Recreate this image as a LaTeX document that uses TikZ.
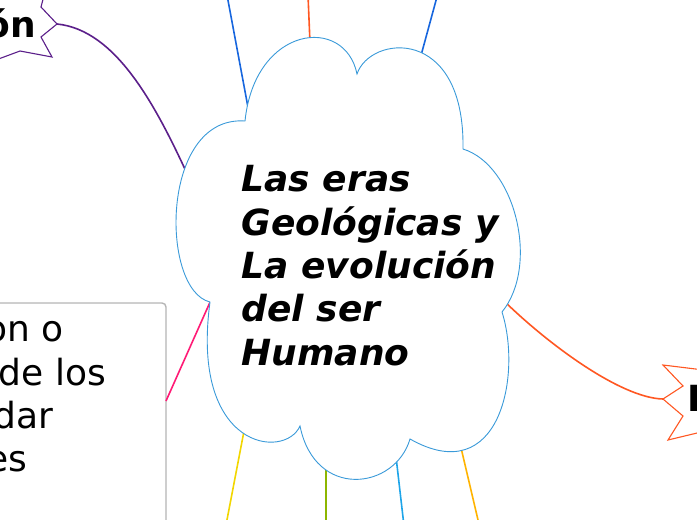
\documentclass[tikz,border=0pt]{standalone}
\usepackage{fontspec}
\setmainfont{DejaVu Sans}
\usepackage{xcolor}
\usetikzlibrary{positioning}

\definecolor{cloudblue}{HTML}{3A9AD9}
\definecolor{branchblue}{HTML}{1766DE}
\definecolor{branchred}{HTML}{FF5722}
\definecolor{branchpurple}{HTML}{5B1F8A}
\definecolor{branchpink}{HTML}{FF1A75}
\definecolor{branchyellow}{HTML}{F2D600}
\definecolor{branchgreen}{HTML}{8DB600}
\definecolor{branchcyan}{HTML}{1EA5E9}
\definecolor{branchorange}{HTML}{FFB300}
\definecolor{boxgrey}{HTML}{B5B5B5}

\begin{document}
\begin{tikzpicture}
      [x=1pt, y=-1pt,
      cloud style/.style={draw=cloudblue, line width=0.9pt, fill=white},
      branch style/.style={line width=1.6pt},
      star style/.style={line width=1.1pt, fill=white, line join=miter},
      box style/.style={draw=boxgrey, line width=1.4pt, rounded corners=4pt, fill=white},
      title style/.style={anchor=north west, align=left, inner sep=0pt, font=\fontsize{36}{43.3}\selectfont\bfseries\itshape},
      box text/.style={anchor=north west, align=left, inner sep=0pt, font=\fontsize{36}{43.3}\selectfont},
      star text/.style={inner sep=0pt, font=\fontsize{36}{43.3}\selectfont\bfseries},
      ]
  \useasboundingbox (0,0) rectangle (697,520);
  \clip (0,0) rectangle (697,520);

  % where the branches leave the cloud
  \coordinate (c-nw) at (250,118);
  \coordinate (c-n) at (310.5,55);
  \coordinate (c-ne) at (418,66.5);
  \coordinate (c-w) at (190,180);
  \coordinate (c-e) at (500,297);
  \coordinate (c-sw) at (215,291);
  \coordinate (c-s1) at (246.9,416);
  \coordinate (c-s2) at (326,455);
  \coordinate (c-s3) at (395,448);
  \coordinate (c-s4) at (459.2,440);
  % free ends, outside the page
  \coordinate (e-nw) at (227,-5);
  \coordinate (e-n) at (308,-5);
  \coordinate (e-ne) at (437.5,-5);
  \coordinate (e-s1) at (226,525);
  \coordinate (e-s2) at (326,525);
  \coordinate (e-s3) at (403.9,525);
  \coordinate (e-s4) at (479.2,525);
  % tips of the two bursts and the box edge
  \coordinate (star-w) at (57,24);
  \coordinate (star-e) at (663,399);
  \coordinate (box-e) at (166,401);

  % box on the left
  \draw[box style] (-20,303) rectangle (166,545);
  \node[box text] (notes) at (-1.4,321.5)
    {\hspace*{-13.2pt}on o\\de los\\\hspace*{-4.9pt}dar\\\hspace*{-12.6pt}es};

  % branches
  \draw[branch style, draw=branchpink] (c-sw) -- (box-e);
  \draw[branch style, draw=branchblue] (c-nw) -- (e-nw);
  \draw[branch style, draw=branchred] (c-n) -- (e-n);
  \draw[branch style, draw=branchblue] (c-ne) -- (e-ne);
  \draw[branch style, draw=branchyellow] (c-s1) -- (e-s1);
  \draw[branch style, draw=branchgreen] (c-s2) -- (e-s2);
  \draw[branch style, draw=branchcyan] (c-s3) -- (e-s3);
  \draw[branch style, draw=branchorange] (c-s4) -- (e-s4);
  \draw[branch style, draw=branchpurple] (star-w) .. controls (117,30) and (157,108) .. (c-w);
  \draw[branch style, draw=branchred] (c-e) .. controls (545,342) and (620,398) .. (star-e);

  % bursts
  \draw[star style, draw=branchpurple] (46,-12) -- (41,7) -- (star-w) -- (41,37) -- (52,57)
    -- (20,51) -- (-15,64) -- (-40,-20) -- cycle;
  \node[star text, anchor=base east] (burst-w) at (36.5,37.3) {ón};
  \draw[star style, draw=branchred] (720,372) -- (663,365) -- (683,386) -- (star-e) -- (683,416)
    -- (668,440) -- (720,427.5) -- cycle;
  \node[star text, anchor=base west] (burst-e) at (687.5,411.7) {E};

  % cloud
  \draw[cloud style] (245,121) .. controls (255,25) and (345,15) .. (357,74)
    .. controls (370,35) and (465,25) .. (463,149)
    .. controls (515,165) and (540,265) .. (502,312)
    .. controls (522,375) and (500,490) .. (410,439)
    .. controls (395,490) and (315,500) .. (300,426)
    .. controls (285,460) and (190,450) .. (210,302)
    .. controls (160,290) and (160,115) .. (245,121) -- cycle;
  \node[title style] (title) at (241.5,165.5)
    {Las eras\\Geológicas y\\La evolución\\del ser\\Humano};
\end{tikzpicture}
\end{document}
